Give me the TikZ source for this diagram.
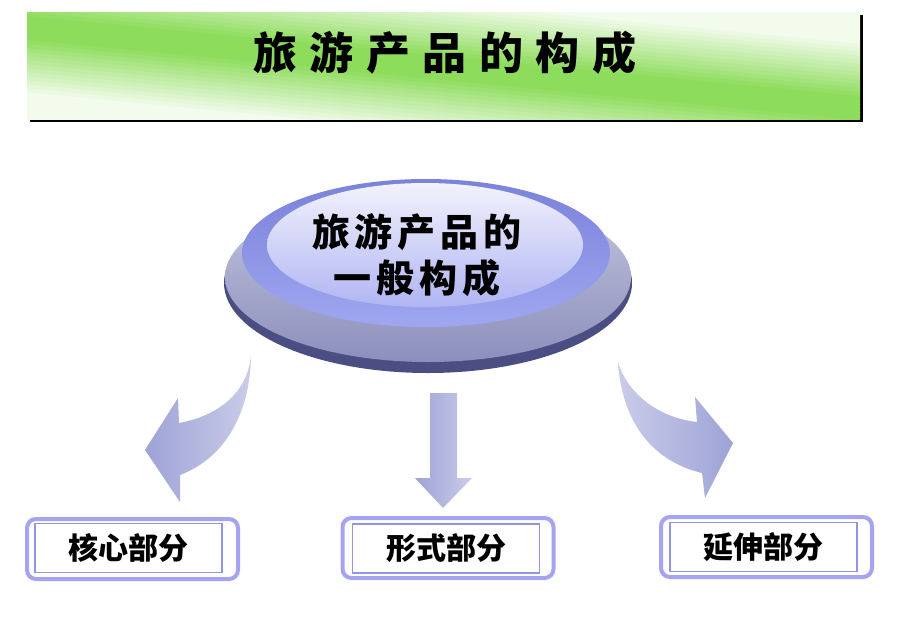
\documentclass[tikz,border=0pt]{standalone}
\usepackage{fontspec}
\newfontfamily\cjk{Noto Sans CJK SC}
\definecolor{palegreen}{HTML}{F2FBEC}
\definecolor{bandgreen}{HTML}{8EDC5C}
\definecolor{rimdark}{HTML}{4A4E82}
\definecolor{graytop}{HTML}{C4C6DE}
\definecolor{graybot}{HTML}{8C8FBC}
\definecolor{ringtop}{HTML}{7A82DA}
\definecolor{ringbot}{HTML}{A0A6F0}
\definecolor{innertop}{HTML}{F2F2FC}
\definecolor{innerbot}{HTML}{B0B5F2}
\definecolor{arrowdark}{HTML}{9EA3D6}
\definecolor{arrowlight}{HTML}{CACCE9}
\definecolor{boxblue}{HTML}{A4A4F2}
\definecolor{innerblue}{HTML}{9494E6}
\begin{document}
\begin{tikzpicture}[x=1pt,y=-1pt,
  outerbox/.style={draw=boxblue, line width=4pt, rounded corners=9pt, minimum width=211pt, minimum height=60pt},
  innerbox/.style={draw=innerblue, line width=1.2pt, minimum width=187pt, minimum height=49pt, font=\cjk\bfseries\fontsize{30}{30}\selectfont},
  ldarrow/.style={left color=arrowdark, right color=arrowlight},
  rdarrow/.style={left color=arrowlight, right color=arrowdark}]
\useasboundingbox (0,0) rectangle (907,638);
% banner
\fill[black] (30,15) rectangle (863,122);
\begin{scope}
\clip (27,12) rectangle (860,119);
\fill[palegreen] (27,12) rectangle (860,119);
\begin{scope}[rotate around={-5.5:(443,68)}]
\foreach \d in {-100,-96,...,100} {
  \pgfmathsetmacro\f{max(0,min(100,100*(66-abs(\d+2))/56))}
  \fill[bandgreen!\f!palegreen] (-300,68+\d) rectangle (1200,68+\d+4.6);
}
\end{scope}
\end{scope}
\node[font=\cjk\bfseries\fontsize{44}{44}\selectfont] (title) at (445,53)
  {旅\hspace{12.5pt}游\hspace{12.5pt}产\hspace{12.5pt}品\hspace{12.5pt}的\hspace{12.5pt}构\hspace{12.5pt}成};
% disc
\fill[rimdark] (428,283) ellipse [x radius=204, y radius=90];
\shade[top color=graytop, bottom color=graybot] (428,277) ellipse [x radius=203, y radius=85];
\shade[top color=ringtop, bottom color=ringbot] (426,253) ellipse [x radius=184, y radius=74];
\shade[top color=innertop, bottom color=innerbot] (425,245) ellipse [x radius=158, y radius=62];
\node[font=\cjk\bfseries\fontsize{38}{46}\selectfont, align=center] (disc) at (417,255)
  {旅\hspace{5pt}游\hspace{5pt}产\hspace{5pt}品\hspace{5pt}的\\一\hspace{5pt}般\hspace{5pt}构\hspace{5pt}成};
% arrows
\shade[ldarrow] (251,355) .. controls (250,420) and (220,460) .. (180,475) -- (180,502) -- (145,450) -- (178,398) -- (179,423) .. controls (222,415) and (248,390) .. (251,355) -- cycle;
\shade[ldarrow] (430,393) -- (457,393) -- (457,478) -- (472,478) -- (443,508) -- (415,478) -- (430,478) -- cycle;
\shade[rdarrow] (618,362) .. controls (622,425) and (655,462) .. (702,473) -- (705,498) -- (733,443) -- (695,397) -- (697,422) .. controls (660,418) and (628,395) .. (618,362) -- cycle;
% boxes
\node[outerbox] (coreout) at (132.5,549) {};
\node[innerbox] (core) at (128.5,548) {核心部分};
\node[outerbox] (formout) at (448,548) {};
\node[innerbox] (form) at (446,548.5) {形式部分};
\node[outerbox] (extout) at (766.5,547) {};
\node[innerbox] (ext) at (763.5,547) {延伸部分};
\end{tikzpicture}
\end{document}
